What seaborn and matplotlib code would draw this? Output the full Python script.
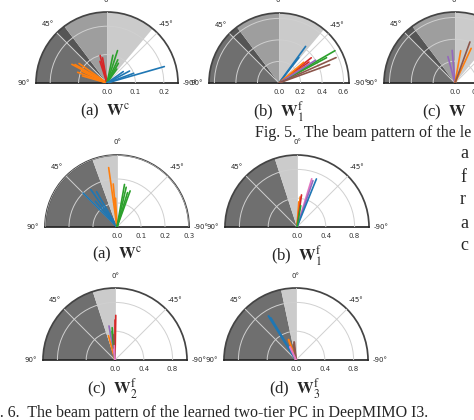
import numpy as np
import seaborn as sns
import matplotlib.pyplot as plt

sns.set_theme(style="white")
plt.rcParams["font.family"] = ["DejaVu Sans"]
plt.rcParams["mathtext.fontset"] = "stix"

tab = sns.color_palette("tab10")
C = {"blue": tab[0], "orange": tab[1], "green": tab[2], "red": tab[3],
     "purple": tab[4], "brown": tab[5], "pink": tab[6]}

# beam directions (deg) and peak gains per panel, grouped by colour
top_a = {
    "orange": ([55, 60, 65, 70, 74, 62], [0.12, 0.13, 0.10, 0.11, 0.09, 0.14]),
    "red": ([10, 14, 18, 12], [0.09, 0.10, 0.08, 0.07]),
    "green": ([-12, -18, -25, -30, -35], [0.10, 0.12, 0.09, 0.08, 0.06]),
    "blue": ([-55, -62, -70, -74], [0.07, 0.09, 0.10, 0.21]),
}
top_b = {
    "blue": ([-36, -38], [0.42, 0.30]),
    "red": ([-52, -55], [0.38, 0.34]),
    "orange": ([-50, -57], [0.30, 0.28]),
    "green": ([-60, -62], [0.60, 0.50]),
    "purple": ([-58], [0.40]),
    "brown": ([-66, -70], [0.58, 0.50]),
}
top_c = {
    "purple": ([15, 5], [0.25, 0.3]),
    "orange": ([-10, -25], [0.3, 0.35]),
    "brown": ([-20], [0.4]),
}
mid_a = {
    "blue": ([30, 35, 40, 45], [0.17, 0.19, 0.14, 0.20]),
    "orange": ([8, 5, 3], [0.25, 0.18, 0.12]),
    "green": ([-10, -13, -17, -20], [0.18, 0.17, 0.15, 0.16]),
}
mid_b = {
    "orange": ([-6, -4], [0.42, 0.35]),
    "red": ([-8], [0.45]),
    "pink": ([-17], [0.70]),
    "purple": ([-19], [0.68]),
    "blue": ([-22], [0.72]),
    "green": ([-10], [0.3]),
}
bot_c = {
    "red": ([-1, 0], [0.62, 0.55]),
    "purple": ([10], [0.48]),
    "orange": ([15], [0.35]),
    "green": ([5, 6], [0.45, 0.40]),
    "brown": ([3], [0.35]),
    "pink": ([3, 8], [0.20, 0.15]),
}
bot_d = {
    "blue": ([32, 31], [0.72, 0.68]),
    "orange": ([20], [0.30]),
    "brown": ([6, 9], [0.25, 0.22]),
    "pink": ([25], [0.20]),
}

W, H = 474, 420
fig = plt.figure(figsize=(W / 100, H / 100), dpi=100)


def panel(cx, base, rad, rmax, rticks, sectors, beams, lw=1.2):
    # half-disk polar axes fill half of their box, so the box is doubled
    left = (cx - 2 * rad) / W
    bottom = (H - (base + rad / 2)) / H
    ax = fig.add_axes([left, bottom, 4 * rad / W, 2 * rad / H], projection="polar")
    ax.set_theta_zero_location("N")
    ax.set_thetamin(-90)
    ax.set_thetamax(90)
    ax.set_ylim(0, rmax)
    for a0, a1, col in sectors:
        ax.bar(np.deg2rad((a0 + a1) / 2), rmax, width=np.deg2rad(a0 - a1),
               bottom=0, color=col, edgecolor="none", zorder=0)
    for name, (angs, gains) in beams.items():
        for a, g in zip(angs, gains):
            ax.plot([0, np.deg2rad(a)], [0, g], color=C[name], lw=lw, zorder=3)
    ax.set_thetagrids([-90, -45, 0, 45, 90],
                      ["-90°", "-45°", "0°", "45°", "90°"], fontsize=5)
    ax.tick_params(axis="x", pad=-4)
    ax.set_yticks(rticks)
    ax.set_yticklabels([])
    for t in rticks:
        ax.annotate(f"{t:.1f}", (np.deg2rad(-90), t), xytext=(0, -4),
                    textcoords="offset points", ha="center", va="top",
                    fontsize=5, color="#333", annotation_clip=False)
    ax.grid(True, color="#d0d0d0", lw=0.7)
    ax.spines["polar"].set_color("#444")
    for s in ("start", "end", "inner"):
        ax.spines[s].set_visible(False)
    ax.set_axisbelow(False)
    return ax


dark, darker, mid, light = "#6f6f6f", "#555555", "#9e9e9e", "#cbcbcb"
sec_top = [(90, 45, dark), (45, 37, darker), (37, 0, mid), (0, -40, light)]

panel(107, 83, 71, 0.25, [0.0, 0.1, 0.2], sec_top, top_a)
panel(279, 83, 70, 0.65, [0.0, 0.2, 0.4, 0.6], sec_top, top_b)
panel(455, 83, 71, 0.65, [0.0, 0.2, 0.4, 0.6], sec_top, top_c)
panel(117, 227, 72, 0.3, [0.0, 0.1, 0.2, 0.3], [(90, 20, dark), (20, 0, light)], mid_a)
panel(297, 227, 72, 1.0, [0.0, 0.4, 0.8], [(90, 18, dark), (18, 0, light)], mid_b)
panel(115, 360, 72, 1.0, [0.0, 0.4, 0.8], [(90, 18, dark), (18, 0, light)], bot_c)
panel(296, 360, 72, 1.0, [0.0, 0.4, 0.8], [(90, 12, dark), (12, 0, light)], bot_d, lw=1.5)

serif = ["Liberation Serif", "DejaVu Serif"]


def txt(x, y, s, size=12, ha="center"):
    fig.text(x / W, 1 - y / H, s, fontsize=size, ha=ha, va="center", family=serif)


txt(105, 112, r"(a)  $\mathbf{W}^{\rm c}$")
txt(279, 112, r"(b)  $\mathbf{W}_1^{\rm f}$")
txt(445, 112, r"(c)  $\mathbf{W}$")
txt(255, 133, "Fig. 5.  The beam pattern of the le", size=11.5, ha="left")
txt(117, 255, r"(a)  $\mathbf{W}^{\rm c}$")
txt(297, 256, r"(b)  $\mathbf{W}_1^{\rm f}$")
txt(113, 389, r"(c)  $\mathbf{W}_2^{\rm f}$")
txt(295, 389, r"(d)  $\mathbf{W}_3^{\rm f}$")
txt(-8, 413, "g. 6.  The beam pattern of the learned two-tier PC in DeepMIMO I3.",
    size=11.5, ha="left")
for y, ch in zip([154, 177, 200, 223, 246], ["a", "f", "r", "a", "c"]):
    txt(460, y, ch, size=13, ha="left")

fig.savefig("out.png", dpi=100)
